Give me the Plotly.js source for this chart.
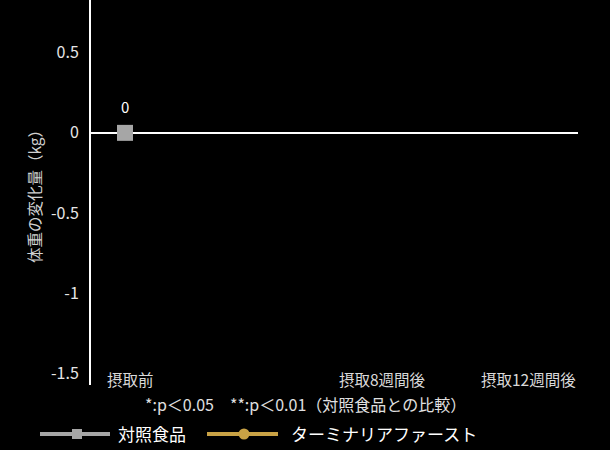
<!DOCTYPE html>
<html>
<head>
<meta charset="utf-8">
<script src="https://cdn.plot.ly/plotly-3.0.1.min.js"></script>
<style>html,body{margin:0;padding:0;background:#000;}#chart{width:610px;height:450px;}</style>
</head>
<body>
<div id="chart"></div>
<script>
// Data (animation first frame: only baseline point visible)
const weeks = [0];
const controlValues = [0];
const terminaliaValues = [0];
const tickWeeks = [0, 8, 12];
const tickLabels = ['摂取前', '摂取8週間後', '摂取12週間後'];
const seriesNames = ['対照食品', 'ターミナリアファースト'];
const yTickVals = [0.5, 0, -0.5, -1, -1.5];
const yTitle = '体重の変化量（kg）';
const footnote = '*:p＜0.05　**:p＜0.01（対照食品との比較）';

const FONT = '"Noto Sans CJK JP", "Noto Sans", sans-serif';
const GRAY = '#a6a6a6';
const GOLD = '#c9a245';

const W = 610, H = 450, L = 91, R = 32, T = 0, B = 65;
const PW = W - L - R, PH = H - T - B;
const px2x = p => (p - L) / PW;
const py2y = p => (H - B - p) / PH;

const traces = [
  {
    x: weeks, y: terminaliaValues, name: seriesNames[1], type: 'scatter', mode: 'lines+markers',
    line: {color: GOLD, width: 4}, marker: {color: GOLD, size: 12, symbol: 'circle'},
    showlegend: false, hoverinfo: 'skip'
  },
  {
    x: weeks, y: controlValues, name: seriesNames[0], type: 'scatter', mode: 'lines+markers',
    line: {color: GRAY, width: 4}, marker: {color: GRAY, size: 16, symbol: 'square'},
    showlegend: false, hoverinfo: 'skip'
  }
];

const tickShifts = [5, -11, 0];
const annotations = tickWeeks.map((w, i) => ({
  x: w, xref: 'x', y: py2y(379), yref: 'paper', text: tickLabels[i], showarrow: false,
  xshift: tickShifts[i], xanchor: 'center', yanchor: 'middle',
  font: {family: FONT, size: 15.5, color: '#d9d9d9'}
}));
annotations.push({
  x: weeks[0], xref: 'x', y: controlValues[0], yref: 'y', text: String(controlValues[0]),
  showarrow: false, yshift: 26, font: {family: FONT, size: 15, color: '#ffffff'}
});
annotations.push({
  x: px2x(305), xref: 'paper', y: py2y(404), yref: 'paper', text: footnote, showarrow: false,
  xanchor: 'center', yanchor: 'middle', font: {family: FONT, size: 16, color: '#e0e0e0'}
});
annotations.push({
  x: px2x(116), xref: 'paper', y: py2y(433), yref: 'paper', text: seriesNames[0], showarrow: false,
  xanchor: 'left', yanchor: 'middle', font: {family: FONT, size: 17, color: '#ffffff'}
});
annotations.push({
  x: px2x(289), xref: 'paper', y: py2y(433), yref: 'paper', text: seriesNames[1], showarrow: false,
  xanchor: 'left', yanchor: 'middle', font: {family: FONT, size: 17, color: '#ffffff'}
});

const ly = py2y(434);
const shapes = [
  {type: 'line', xref: 'paper', yref: 'paper', x0: px2x(40), x1: px2x(110), y0: ly, y1: ly,
   line: {color: GRAY, width: 4}},
  {type: 'rect', xref: 'paper', yref: 'paper', x0: px2x(72), x1: px2x(82), y0: py2y(439), y1: py2y(429),
   fillcolor: GRAY, line: {width: 0}},
  {type: 'line', xref: 'paper', yref: 'paper', x0: px2x(207), x1: px2x(278), y0: ly, y1: ly,
   line: {color: GOLD, width: 4}},
  {type: 'circle', xref: 'paper', yref: 'paper', x0: px2x(238.5), x1: px2x(249.5), y0: py2y(439.5), y1: py2y(428.5),
   fillcolor: GOLD, line: {width: 0}}
];

const layout = {
  width: W, height: H,
  margin: {l: L, r: R, t: T, b: B, pad: 0},
  paper_bgcolor: '#000000', plot_bgcolor: '#000000',
  font: {family: FONT, color: '#ffffff'},
  showlegend: false,
  xaxis: {
    type: 'linear', range: [-1.012, 13.48], showline: false, showgrid: false, zeroline: false,
    showticklabels: false, ticks: '', fixedrange: true
  },
  yaxis: {
    range: [-1.575, 0.83], tickvals: yTickVals, ticktext: yTickVals.map(String),
    showline: true, linecolor: '#ffffff', linewidth: 2,
    showgrid: false, zeroline: true, zerolinecolor: '#ffffff', zerolinewidth: 2,
    ticks: '', ticklabelstandoff: 7,
    tickfont: {family: FONT, size: 16, color: '#e6e6e6'},
    title: {text: yTitle, standoff: 6, font: {family: FONT, size: 15.5, color: '#d0d0d0'}},
    fixedrange: true
  },
  annotations: annotations,
  shapes: shapes
};

Plotly.newPlot('chart', traces, layout, {displayModeBar: false, staticPlot: true});
</script>
</body>
</html>
